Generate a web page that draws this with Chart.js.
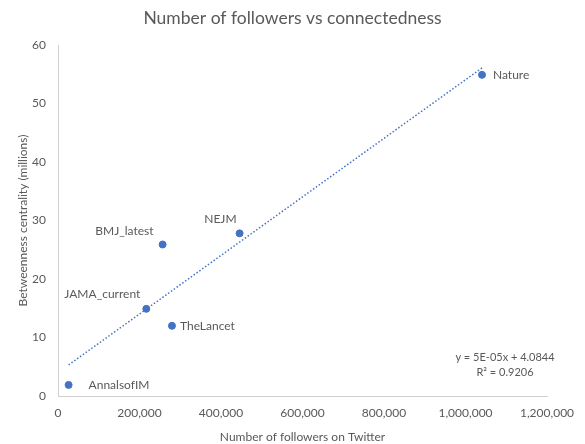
<!DOCTYPE html>
<html>
<head>
<meta charset="utf-8">
<script src="https://cdn.jsdelivr.net/npm/chart.js@4/dist/chart.umd.min.js"></script>
<style>
  html, body { margin: 0; padding: 0; background: #fff; }
  #wrap { width: 585px; height: 444px; }
</style>
</head>
<body>
<div id="wrap"><canvas id="Chart"></canvas></div>
<script>
// データ
const journals = ["AnnalsofIM", "JAMA_current", "BMJ_latest", "NEJM", "TheLancet", "Nature"];
const followers = [26000, 216700, 256700, 445600, 279700, 1040500];
const centrality = [1.9, 14.9, 25.9, 27.8, 12.0, 54.9];
const xTicks = [0, 200000, 400000, 600000, 800000, 1000000, 1200000];
const yTicks = [0, 10, 20, 30, 40, 50, 60];
const trendText = ["y = 5E-05x + 4.0844", "R\u00b2 = 0.9206"];

// ラベルの位置 (dx, dy, align)
const labelPlace = [
  [20, 0, "left"],
  [-6, -15, "right"],
  [-9, -13, "right"],
  [-3, -14, "right"],
  [8, 0, "left"],
  [11, 0, "left"]
];

const FONT = "Lato";
const TXT = "#595959";
const BLUE = "#4472C4";

// 近似直線（最小二乗）
const n = followers.length;
const mx = followers.reduce((a, b) => a + b, 0) / n;
const my = centrality.reduce((a, b) => a + b, 0) / n;
let sxy = 0, sxx = 0;
for (let i = 0; i < n; i++) {
  sxy += (followers[i] - mx) * (centrality[i] - my);
  sxx += (followers[i] - mx) * (followers[i] - mx);
}
const slope = sxy / sxx;
const icpt = my - slope * mx;
const xMin = Math.min(...followers), xMax = Math.max(...followers);
const trendPts = [{x: xMin, y: icpt + slope * xMin}, {x: xMax, y: icpt + slope * xMax}];

const labelPlugin = {
  id: "pointLabels",
  afterDatasetsDraw(chart) {
    const ctx = chart.ctx;
    const meta = chart.getDatasetMeta(1);
    ctx.save();
    ctx.font = "12px " + FONT;
    ctx.fillStyle = TXT;
    ctx.textBaseline = "middle";
    meta.data.forEach((pt, i) => {
      const p = labelPlace[i];
      ctx.textAlign = p[2];
      ctx.fillText(journals[i], pt.x + p[0], pt.y + p[1]);
    });
    // 式
    const ca = chart.chartArea;
    ctx.textAlign = "center";
    ctx.font = "11px " + FONT;
    ctx.fillText(trendText[0], ca.right - 42, ca.bottom - 39);
    ctx.fillText(trendText[1], ca.right - 42, ca.bottom - 24);
    ctx.restore();
  }
};

let lineCtx = document.getElementById("Chart");
let lineConfig = {
  type: "scatter",
  data: {
    datasets: [{
      type: "line",
      data: trendPts,
      borderColor: BLUE,
      borderWidth: 1.5,
      borderDash: [1.5, 2],
      pointRadius: 0,
      fill: false
    }, {
      data: followers.map((x, i) => ({x: x, y: centrality[i]})),
      backgroundColor: BLUE,
      borderColor: BLUE,
      pointRadius: 3.5,
      pointHoverRadius: 3.5
    }]
  },
  options: {
    responsive: true,
    maintainAspectRatio: false,
    animation: false,
    layout: { padding: 0 },
    plugins: {
      legend: { display: false },
      tooltip: { enabled: false },
      title: {
        display: true,
        text: "Number of followers vs connectedness",
        color: TXT,
        font: { family: FONT, size: 17.5, weight: "normal" },
        padding: { top: 8, bottom: 16 }
      }
    },
    scales: {
      x: {
        type: "linear",
        min: 0, max: 1200000,
        afterBuildTicks: s => { s.ticks = xTicks.map(v => ({value: v})); },
        afterFit: s => { s.height = 48; },
        grid: { display: true, drawOnChartArea: false, drawTicks: false, tickLength: 0 },
        border: { display: true, color: "#D0D0D0", width: 1 },
        ticks: {
          color: TXT, padding: 10, font: { family: FONT, size: 12 },
          callback: v => v.toLocaleString("en-US")
        },
        title: {
          display: true, text: "Number of followers on Twitter", color: TXT,
          font: { family: FONT, size: 12 }, padding: { top: 4, bottom: 0 }
        }
      },
      y: {
        type: "linear",
        min: 0, max: 60,
        afterBuildTicks: s => { s.ticks = yTicks.map(v => ({value: v})); },
        afterFit: s => { s.width = 58; },
        grid: { display: true, drawOnChartArea: false, drawTicks: false, tickLength: 0 },
        border: { display: true, color: "#D0D0D0", width: 1 },
        ticks: { color: TXT, padding: 12, font: { family: FONT, size: 12 } },
        title: {
          display: true, text: "Betweenness centrality (millions)", color: TXT,
          font: { family: FONT, size: 12 }, padding: { top: 16, bottom: 0 }
        }
      },
      // 右側の余白用
      yRight: {
        type: "linear",
        position: "right",
        display: true,
        afterFit: s => { s.width = 38; },
        grid: { display: false },
        border: { display: false },
        ticks: { display: false }
      }
    }
  },
  plugins: [labelPlugin]
};
let lineChart = new Chart(lineCtx, lineConfig);
</script>
</body>
</html>
